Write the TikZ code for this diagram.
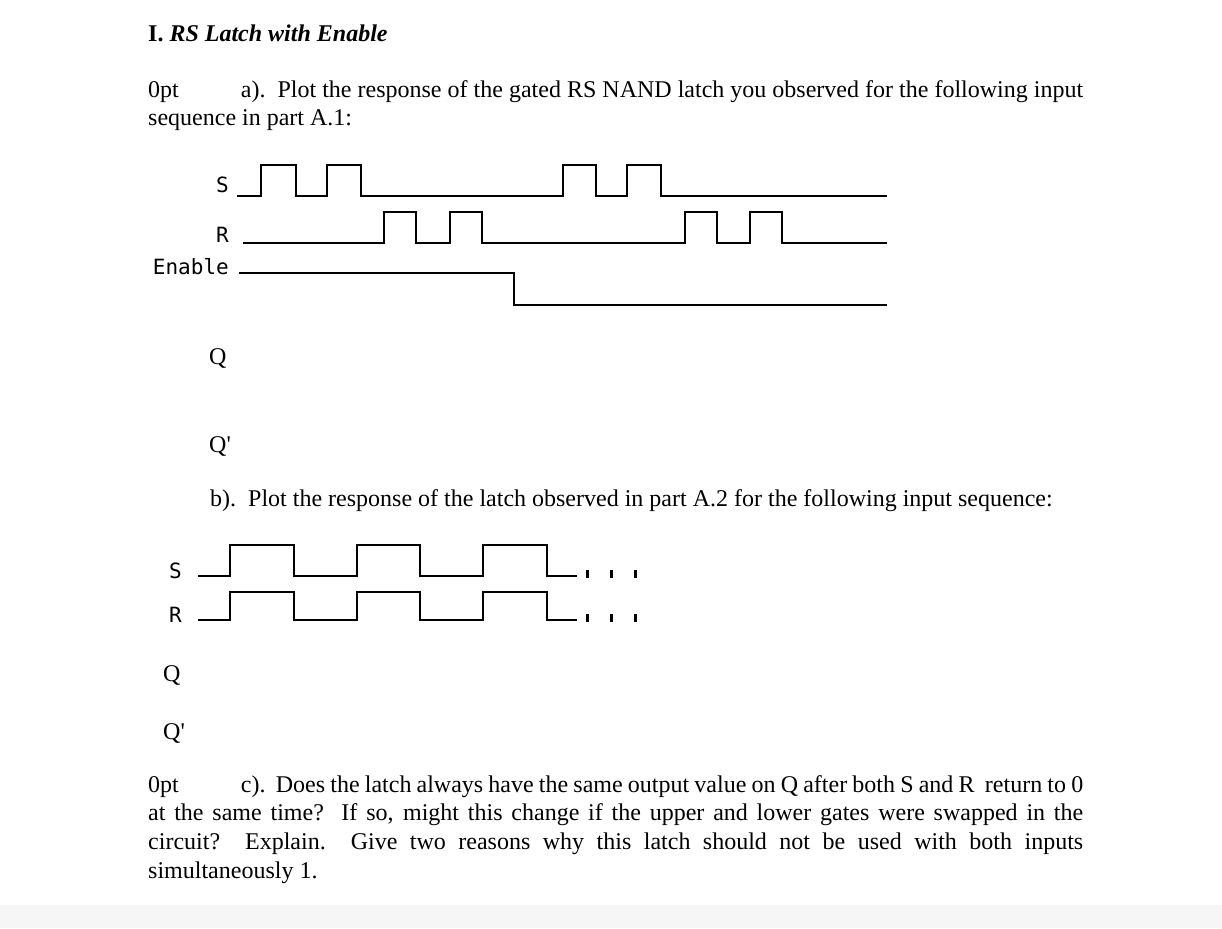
\documentclass[tikz,border=0pt]{standalone}
\usepackage{fontspec}
\setmainfont{Liberation Serif}
\newfontfamily\pixfont{DejaVu Sans Mono}
\begin{document}
\begin{tikzpicture}[x=1pt,y=-1pt,
  wave/.style={line width=1.4pt,line join=miter},
  sig/.style={font=\pixfont\fontsize{21}{21}\selectfont,anchor=base east,inner sep=0},
  lbl/.style={font=\fontsize{24}{24}\selectfont,anchor=base west,inner sep=0},
  para/.style={font=\fontsize{24}{28.7}\selectfont\hyphenpenalty=10000,anchor=north west,inner sep=0,text width=935pt,align=justify},
  dot/.style={line width=3pt}]
\useasboundingbox (0,0) rectangle (1222,928);
\fill[gray!7] (0,905) rectangle (1222,928);
\node[lbl,font=\bfseries\fontsize{24}{24}\selectfont] (h) at (148,42) {I. \textit{RS Latch with Enable}};
\node[para] (pa) at (148,80) {\hspace*{62pt}a).\ \ Plot the response of the gated RS NAND latch you observed for the following input\linebreak sequence in part A.1:};
% part a waves
\node[sig] (ls) at (229,193) {S};
\node[sig] (lr) at (229,242) {R};
\node[sig] (le) at (229,274) {Enable};
\draw[wave] (237,196) -- (261,196) -- (261,165) -- (296,165) -- (296,196) -- (327,196) -- (327,165) -- (361,165) -- (361,196)
  -- (563,196) -- (563,165) -- (596,165) -- (596,196) -- (627,196) -- (627,165) -- (661,165) -- (661,196) -- (887,196);
\draw[wave] (243,243) -- (384,243) -- (384,212) -- (416,212) -- (416,243) -- (450,243) -- (450,212) -- (482,212) -- (482,243)
  -- (685,243) -- (685,212) -- (717,212) -- (717,243) -- (750,243) -- (750,212) -- (782,212) -- (782,243) -- (887,243);
\draw[wave] (239,273) -- (514,273) -- (514,305) -- (887,305);
\node[lbl] (q1) at (209,364) {Q};
\node[lbl] (qb1) at (209,452) {Q\textquotesingle};
\node[lbl] (pb) at (210,506) {b).\ \ Plot the response of the latch observed in part A.2 for the following input sequence:};
% part b waves
\node[sig] (ls2) at (182,578) {S};
\node[sig] (lr2) at (182,622) {R};
\draw[wave] (198,576) -- (230,576) -- (230,545) -- (294,545) -- (294,576) -- (357,576) -- (357,545) -- (420,545) -- (420,576)
  -- (483,576) -- (483,545) -- (547,545) -- (547,576) -- (577,576);
\draw[wave] (198,620) -- (230,620) -- (230,592) -- (294,592) -- (294,620) -- (357,620) -- (357,592) -- (420,592) -- (420,620)
  -- (483,620) -- (483,592) -- (547,592) -- (547,620) -- (577,620);
\foreach \x in {587,611,635}{\draw[dot] (\x,570) -- (\x,578); \draw[dot] (\x,614) -- (\x,622);}
\node[lbl] (q2) at (163,681) {Q};
\node[lbl] (qb2) at (163,739) {Q\textquotesingle};
\node[para] (pc) at (148,775) {\hspace*{62pt}c).\ \ Does the latch always have the same output value on Q after both S and R\ \ return to 0\linebreak at the same time?\ \ If so, might this change if the upper and lower gates were swapped in the\linebreak circuit?\ \ Explain.\ \ Give two reasons why this latch should not be used with both inputs\linebreak simultaneously 1.};
\end{tikzpicture}
\end{document}
